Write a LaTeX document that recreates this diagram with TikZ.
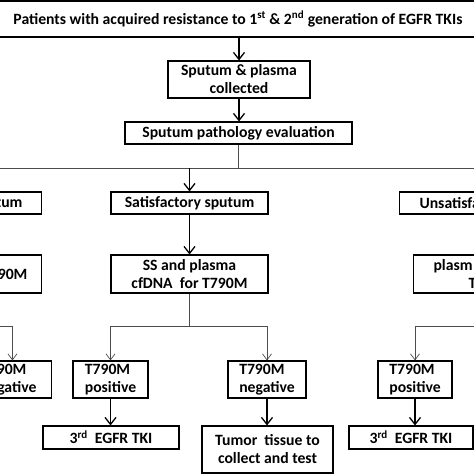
\documentclass[tikz,border=0pt]{standalone}
\usepackage{fontspec}
\setmainfont{Carlito}
\usetikzlibrary{arrows.meta}

\tikzset{
  box/.style={draw, line width=1.1pt, font=\fontsize{15.7}{18}\selectfont\bfseries, align=center, inner sep=0pt},
  bigarrow/.style={line width=1.3pt, -{Straight Barb[length=7pt,width=11pt]}},
  thinline/.style={line width=0.7pt, draw=black!70},
  thinarrow/.style={thinline, -{Straight Barb[length=6pt,width=9pt]}},
}

\begin{document}
\begin{tikzpicture}[x=1pt,y=-1pt]
\useasboundingbox (0,0) rectangle (474,474);
\clip (0,0) rectangle (474,474);

% top and first steps
\node[box, minimum width=500, minimum height=36] (top) at (238,19)
  {Patients with acquired resistance to 1\textsuperscript{st} \& 2\textsuperscript{nd} generation of EGFR TKIs};
\node[box, minimum width=142, minimum height=37] (collect) at (239,79.5) {Sputum \& plasma\\collected};
\node[box, minimum width=227, minimum height=22] (patho) at (238.5,133) {Sputum pathology evaluation};

% sputum branches
\node[box, minimum width=157, minimum height=22] (satis) at (189.5,203) {Satisfactory sputum};
\node[box, minimum height=22, anchor=east, text width=60, align=right, inner xsep=19] (lsput) at (42,203) {tum};
\node[box, minimum height=22, anchor=west, text width=80, align=left, inner xsep=20] (rsput) at (399,203) {Unsatisfa};

% cfDNA tests
\node[box, minimum width=157, minimum height=38] (ss) at (189.5,274) {SS and plasma\\cfDNA\ \ for T790M};
\node[box, minimum height=38, anchor=east, text width=60, align=right, inner xsep=14] (ltest) at (42,274) {90M};
\node[box, minimum height=38, anchor=west, text width=60, align=left, inner xsep=20] (rtest) at (413,274) {plasm\\\hspace*{35pt}T};

% results
\node[box, minimum width=75, minimum height=37, align=left] (pos) at (110.5,379.5) {T790M\\positive};
\node[box, minimum width=78, minimum height=37, align=left] (neg) at (267,379.5) {T790M\\negative};
\node[box, minimum height=37, anchor=east, text width=48, align=right, inner xsep=15] (lneg) at (52,379.5) {90M\kern10pt\null\\gative};
\node[box, minimum width=74, minimum height=37, align=left] (rpos) at (415,379.5) {T790M\\positive};

% treatment
\node[box, minimum width=136, minimum height=23] (tki) at (111,437.5) {3\textsuperscript{rd}\ \ EGFR TKI};
\node[box, minimum width=131, minimum height=47] (tissue) at (267.5,449.5) {Tumor\ \ tissue to\\collect and test};
\node[box, minimum width=124, minimum height=23] (rtki) at (411,437.5) {3\textsuperscript{rd}\ \ EGFR TKI};

% bus ends
\coordinate (busL) at (-5,168);
\coordinate (busR) at (479,168);
\coordinate (busL2) at (-5,326);
\coordinate (busR2) at (479,326);

% connectors
\draw[bigarrow] (top.south -| collect.north) -- (collect.north);
\draw[bigarrow] (collect.south) -- (collect.south |- patho.north);
\draw[thinline] (patho.south) -- (patho.south |- busL);
\draw[thinline] (busL) -- (busR);
\draw[bigarrow] (satis.north |- busL) -- (satis.north);
\draw[bigarrow] (satis) -- (ss);
\draw[thinline] (ss.south) -- (ss.south |- busL2);
\draw[thinarrow] (ss.south |- busL2) -| (pos.north);
\draw[thinarrow] (ss.south |- busL2) -| (neg.north);
\draw[thinarrow] (busL2) -| (lneg.north);
\draw[thinarrow] (busR2) -| (rpos.north);
\draw[bigarrow] (pos.south) -- (pos.south |- tki.north);
\draw[bigarrow] (neg.south) -- (neg.south |- tissue.north);
\draw[bigarrow] (rpos.south) -- (rpos.south |- rtki.north);

\end{tikzpicture}
\end{document}
